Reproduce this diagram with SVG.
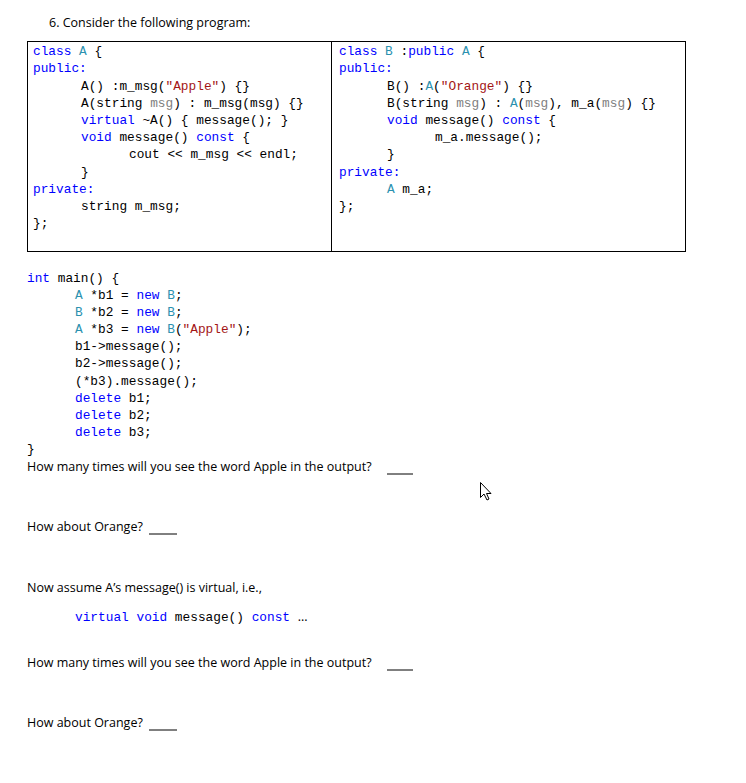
<svg xmlns="http://www.w3.org/2000/svg" width="746" height="783" viewBox="0 0 746 783">
<style>
.c{font-family:"Liberation Mono","DejaVu Sans Mono",monospace;font-size:12.8px;fill:#000;white-space:pre}
.t{font-family:"Open Sans","Liberation Sans",sans-serif;font-size:12.5px;fill:#000}
.k{fill:#0000FF}.y{fill:#2B91AF}.s{fill:#A31515}.g{fill:#808080}
.u{stroke:#000;stroke-width:1}
</style>
<rect width="746" height="783" fill="#fff"/>
<text class="t" x="49" y="27">6.  Consider the following program:</text>
<g id="boxes" fill="none" stroke="#000" stroke-width="1">
<rect x="27.5" y="41.5" width="658" height="210"/>
<line x1="331.5" y1="41.5" x2="331.5" y2="251.5"/>
</g>
<g id="classA" class="c" xml:space="preserve">
<text x="33" y="55"><tspan class="k">class</tspan> <tspan class="y">A</tspan> {</text>
<text x="33" y="72" class="c k">public:</text>
<text x="81" y="90">A() :m_msg(<tspan class="s">"Apple"</tspan>) {}</text>
<text x="81" y="107">A(string <tspan class="g">msg</tspan>) : m_msg(msg) {}</text>
<text x="81" y="124"><tspan class="k">virtual</tspan> ~A() { message(); }</text>
<text x="81" y="141"><tspan class="k">void</tspan> message() <tspan class="k">const</tspan> {</text>
<text x="129" y="158">cout &lt;&lt; m_msg &lt;&lt; endl;</text>
<text x="81" y="176">}</text>
<text x="33" y="193" class="c k">private:</text>
<text x="81" y="210">string m_msg;</text>
<text x="33" y="227">};</text>
</g>
<g id="classB" class="c" xml:space="preserve">
<text x="339" y="55"><tspan class="k">class</tspan> <tspan class="y">B</tspan> :<tspan class="k">public</tspan> <tspan class="y">A</tspan> {</text>
<text x="339" y="72" class="c k">public:</text>
<text x="387" y="90">B() :<tspan class="y">A</tspan>(<tspan class="s">"Orange"</tspan>) {}</text>
<text x="387" y="107">B(string <tspan class="g">msg</tspan>) : <tspan class="y">A</tspan>(<tspan class="g">msg</tspan>), m_a(<tspan class="g">msg</tspan>) {}</text>
<text x="387" y="124"><tspan class="k">void</tspan> message() <tspan class="k">const</tspan> {</text>
<text x="435" y="141">m_a.message();</text>
<text x="387" y="158">}</text>
<text x="339" y="176" class="c k">private:</text>
<text x="387" y="193"><tspan class="y">A</tspan> m_a;</text>
<text x="339" y="210">};</text>
</g>
<g id="main" class="c" xml:space="preserve">
<text x="27" y="282"><tspan class="k">int</tspan> main() {</text>
<text x="75" y="299"><tspan class="y">A</tspan> *b1 = <tspan class="k">new</tspan> <tspan class="y">B</tspan>;</text>
<text x="75" y="316"><tspan class="y">B</tspan> *b2 = <tspan class="k">new</tspan> <tspan class="y">B</tspan>;</text>
<text x="75" y="333"><tspan class="y">A</tspan> *b3 = <tspan class="k">new</tspan> <tspan class="y">B</tspan>(<tspan class="s">"Apple"</tspan>);</text>
<text x="75" y="350">b1-&gt;message();</text>
<text x="75" y="367">b2-&gt;message();</text>
<text x="75" y="385">(*b3).message();</text>
<text x="75" y="402"><tspan class="k">delete</tspan> b1;</text>
<text x="75" y="419"><tspan class="k">delete</tspan> b2;</text>
<text x="75" y="436"><tspan class="k">delete</tspan> b3;</text>
<text x="27" y="453">}</text>
</g>
<g id="questions">
<text class="t" x="27" y="471">How many times will you see the word Apple in the output?</text>
<line class="u" x1="387" y1="474" x2="413" y2="474"/>
<text class="t" x="27" y="531">How about Orange?</text>
<line class="u" x1="149" y1="534" x2="177" y2="534"/>
<text class="t" x="27" y="592">Now assume A’s message() is virtual, i.e.,</text>
<text class="c" x="75" y="621" xml:space="preserve"><tspan class="k">virtual</tspan> <tspan class="k">void</tspan> message() <tspan class="k">const</tspan> <tspan style="font-family:'Open Sans','Liberation Sans',sans-serif;font-size:12.5px">...</tspan></text>
<text class="t" x="27" y="667">How many times will you see the word Apple in the output?</text>
<line class="u" x1="387" y1="670" x2="413" y2="670"/>
<text class="t" x="27" y="727">How about Orange?</text>
<line class="u" x1="149" y1="730" x2="177" y2="730"/>
</g>
<path d="M480.5 482.5 L480.5 497.5 L484 494 L487 500 L489 499 L486.5 493.5 L491 493.5 Z" fill="#fff" stroke="#000" stroke-width="1"/>
</svg>
